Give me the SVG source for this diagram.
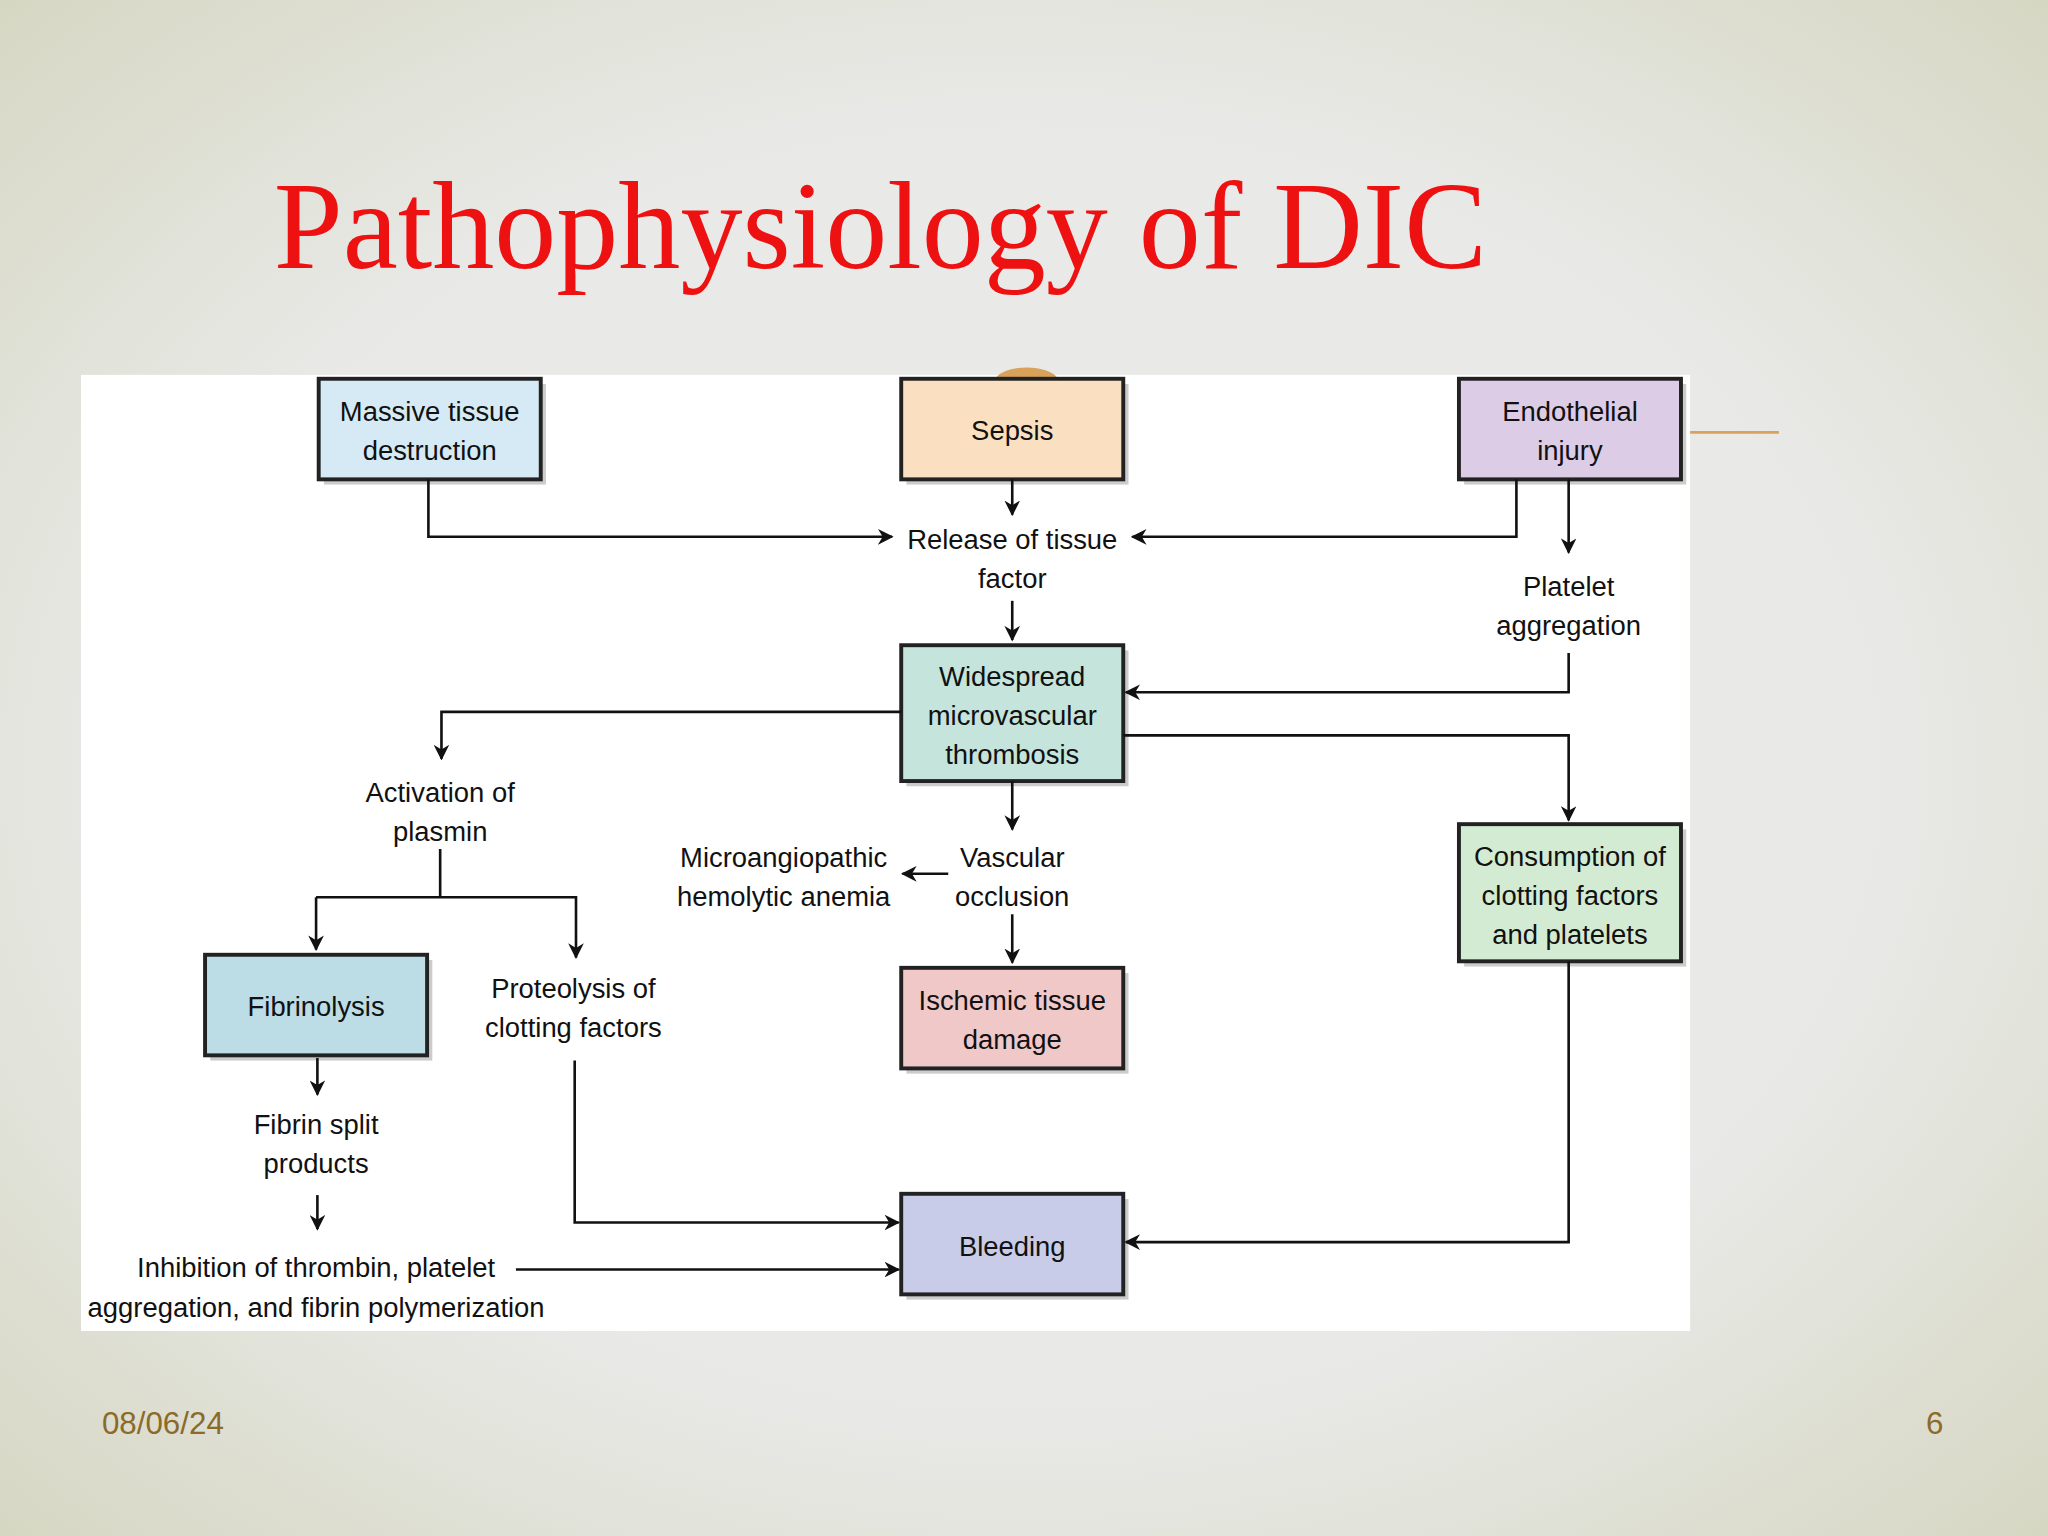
<svg xmlns="http://www.w3.org/2000/svg" width="2048" height="1536" viewBox="0 0 2048 1536">
<defs>
<radialGradient id="bg" cx="50%" cy="50%" r="75%">
<stop offset="0.55" stop-color="#e9eae8"/><stop offset="1" stop-color="#d3d4bd"/>
</radialGradient>
<marker id="ah" viewBox="0 0 10 10" refX="9" refY="5" markerWidth="12" markerHeight="12" orient="auto" markerUnits="userSpaceOnUse">
<path d="M0,0 L10,5 L0,10 L3,5 Z" fill="#111"/>
</marker>
<style>
.bx{stroke:#222;stroke-width:3}
.sh{fill:#9a9a9a;opacity:0.5}
.t{font-family:"Liberation Sans",Arial,sans-serif;font-size:21px;fill:#111;text-anchor:middle}
.c{fill:none;stroke:#111;stroke-width:2;marker-end:url(#ah)}
.l{fill:none;stroke:#111;stroke-width:2}
</style>
</defs>
<rect width="2048" height="1536" fill="url(#bg)"/>
<g transform="scale(1.30612)">
<text x="674" y="205" font-family="'Liberation Serif','Times New Roman',serif" font-size="95" fill="#ee1111" text-anchor="middle">Pathophysiology of DIC</text>
<rect x="62" y="287" width="1232" height="732" fill="#ffffff"/>
<line x1="1294" y1="331" x2="1362" y2="331" stroke="#d9a25a" stroke-width="2"/>
<path d="M762,290 A25,12 0 0 1 810,290 Z" fill="#d9a25a"/>
<g id="massive"><rect class="sh" x="248" y="294" width="170" height="77"/><rect class="bx" x="244" y="290" width="170" height="77" fill="#d6eaf5"/><text class="t" x="329" y="322">Massive tissue</text><text class="t" x="329" y="352">destruction</text></g>
<g id="sepsis"><rect class="sh" x="694" y="294" width="170" height="77"/><rect class="bx" x="690" y="290" width="170" height="77" fill="#fae0c0"/><text class="t" x="775" y="337">Sepsis</text></g>
<g id="endothelial"><rect class="sh" x="1121" y="294" width="170" height="77"/><rect class="bx" x="1117" y="290" width="170" height="77" fill="#dccce6"/><text class="t" x="1202" y="322">Endothelial</text><text class="t" x="1202" y="352">injury</text></g>
<g id="widespread"><rect class="sh" x="694" y="498" width="170" height="104"/><rect class="bx" x="690" y="494" width="170" height="104" fill="#c4e4dc"/><text class="t" x="775" y="525">Widespread</text><text class="t" x="775" y="555">microvascular</text><text class="t" x="775" y="585">thrombosis</text></g>
<g id="consumption"><rect class="sh" x="1121" y="635" width="170" height="105"/><rect class="bx" x="1117" y="631" width="170" height="105" fill="#d2ebd2"/><text class="t" x="1202" y="663">Consumption of</text><text class="t" x="1202" y="693">clotting factors</text><text class="t" x="1202" y="723">and platelets</text></g>
<g id="fibrinolysis"><rect class="sh" x="161" y="735" width="170" height="77"/><rect class="bx" x="157" y="731" width="170" height="77" fill="#bcdde6"/><text class="t" x="242" y="778">Fibrinolysis</text></g>
<g id="ischemic"><rect class="sh" x="694" y="745" width="170" height="77"/><rect class="bx" x="690" y="741" width="170" height="77" fill="#f0c8c8"/><text class="t" x="775" y="773">Ischemic tissue</text><text class="t" x="775" y="803">damage</text></g>
<g id="bleeding"><rect class="sh" x="694" y="918" width="170" height="77"/><rect class="bx" x="690" y="914" width="170" height="77" fill="#c8cce8"/><text class="t" x="775" y="962">Bleeding</text></g>
<g id="labels">
<text class="t" x="775" y="420">Release of tissue</text><text class="t" x="775" y="450">factor</text>
<text class="t" x="1201" y="456">Platelet</text><text class="t" x="1201" y="486">aggregation</text>
<text class="t" x="337" y="614">Activation of</text><text class="t" x="337" y="644">plasmin</text>
<text class="t" x="600" y="664">Microangiopathic</text><text class="t" x="600" y="694">hemolytic anemia</text>
<text class="t" x="775" y="664">Vascular</text><text class="t" x="775" y="694">occlusion</text>
<text class="t" x="439" y="764">Proteolysis of</text><text class="t" x="439" y="794">clotting factors</text>
<text class="t" x="242" y="868">Fibrin split</text><text class="t" x="242" y="898">products</text>
<text class="t" x="242" y="978">Inhibition of thrombin, platelet</text><text class="t" x="242" y="1008">aggregation, and fibrin polymerization</text>
</g>
<g id="connectors">
<path class="c" d="M328,367 V411 H683"/>
<path class="c" d="M775,367 V394"/>
<path class="c" d="M1161,367 V411 H867"/>
<path class="c" d="M1201,367 V423"/>
<path class="c" d="M775,460 V490"/>
<path class="c" d="M1201,500 V530 H862"/>
<path class="c" d="M690,545 H338 V581"/>
<path class="c" d="M860,563 H1201 V628"/>
<path class="c" d="M775,598 V635"/>
<path class="c" d="M726,669 H691"/>
<path class="c" d="M775,700 V737"/>
<path class="l" d="M337,650 V687"/>
<path class="c" d="M242,687 V727"/>
<path class="c" d="M242,687 H441 V733"/>
<path class="c" d="M243,810 V838"/>
<path class="c" d="M243,915 V941"/>
<path class="c" d="M440,812 V936 H688"/>
<path class="c" d="M395,972 H688"/>
<path class="c" d="M1201,736 V951 H862"/>
</g>
<text x="78" y="1098" font-family="'Liberation Sans',Arial,sans-serif" font-size="24" fill="#8b6a2a">08/06/24</text>
<text x="1488" y="1098" font-family="'Liberation Sans',Arial,sans-serif" font-size="24" fill="#8b6a2a" text-anchor="end">6</text>
</g>
</svg>
